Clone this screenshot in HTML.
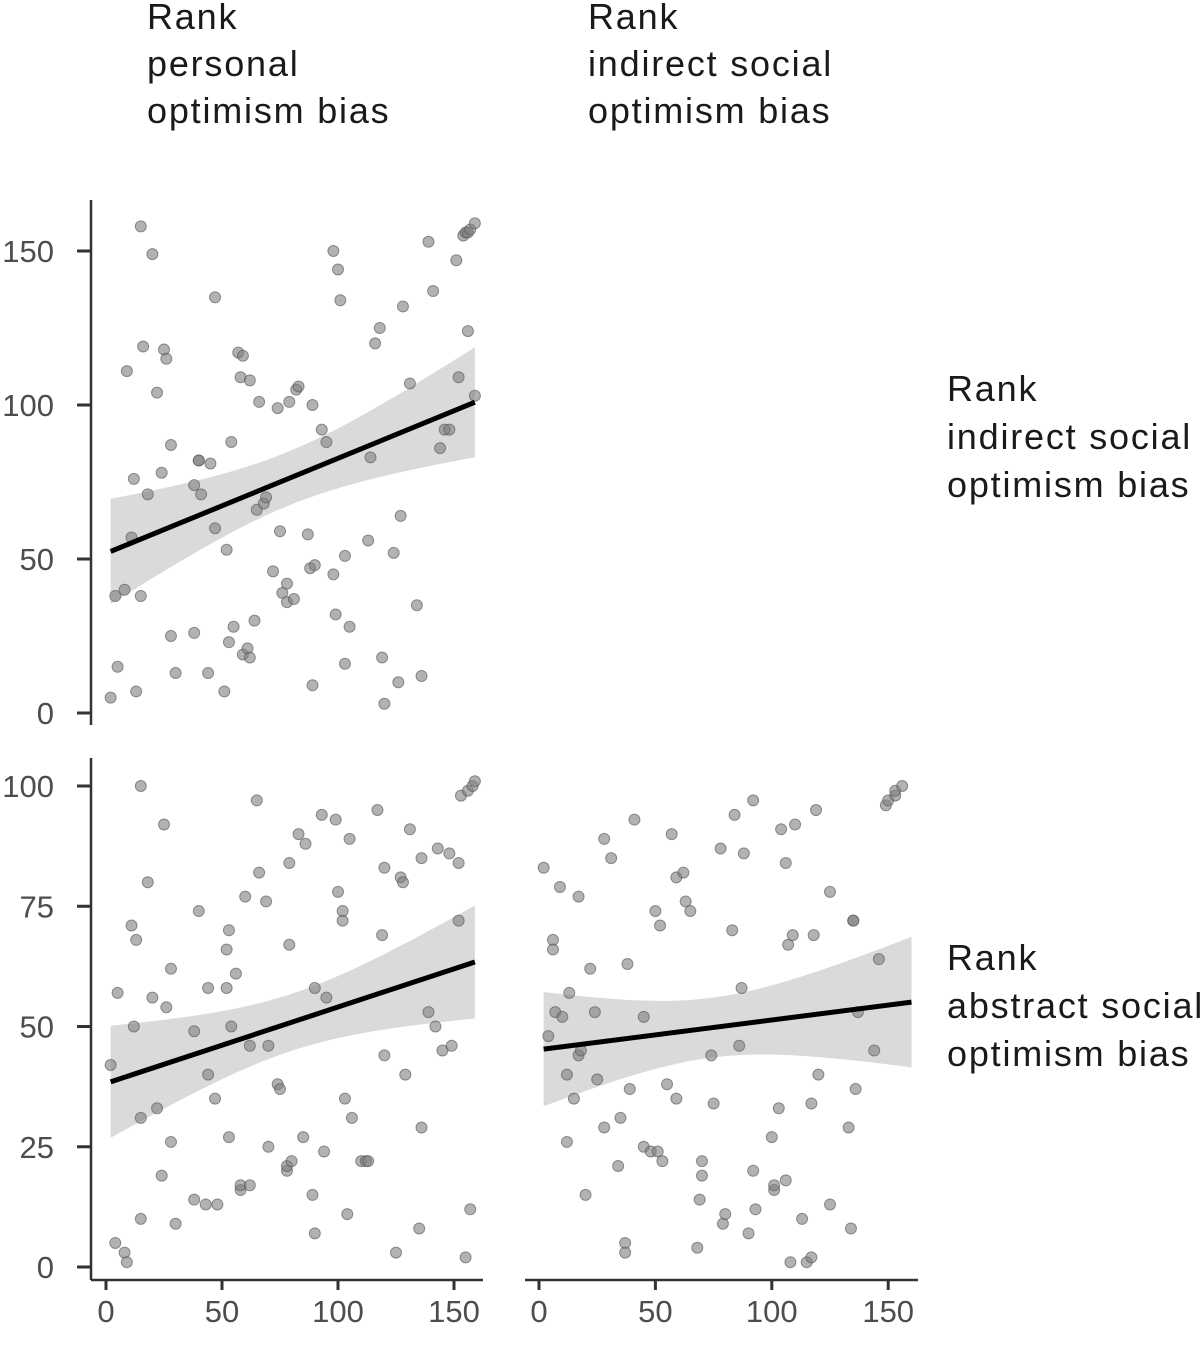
<!DOCTYPE html>
<html><head><meta charset="utf-8"><style>
html,body{margin:0;padding:0;background:#fff;}
svg{display:block;font-family:"Liberation Sans",Arial,sans-serif;}
</style></head><body>
<svg id="chart" width="1200" height="1350" viewBox="0 0 1200 1350">
<g font-size="36" letter-spacing="1.8" fill="#1a1a1a">
<text x="147" y="29"><tspan x="147">Rank</tspan><tspan x="147" dy="47">personal</tspan><tspan x="147" dy="47">optimism bias</tspan></text>
<text x="588" y="29"><tspan x="588">Rank</tspan><tspan x="588" dy="47">indirect social</tspan><tspan x="588" dy="47">optimism bias</tspan></text>
<text x="947" y="401"><tspan x="947">Rank</tspan><tspan x="947" dy="48">indirect social</tspan><tspan x="947" dy="48">optimism bias</tspan></text>
<text x="947" y="970"><tspan x="947">Rank</tspan><tspan x="947" dy="48">abstract social</tspan><tspan x="947" dy="48">optimism bias</tspan></text>
</g>
</svg>
<script>
// Panel A: personal (x) vs indirect social (y)
const panelAX=[2,4,5,8,9,11,12,13,15,15,16,20,18,22,24,25,26,28,28,30,38,38,40,40,41,44,45,47,47,51,52,53,54,55,57,58,59,59,61,62,62,64,65,66,68,69,72,74,75,76,78,78,79,81,82,83,87,88,89,89,90,93,95,98,98,99,100,101,103,103,105,113,114,116,118,119,120,124,126,127,128,131,134,136,139,141,144,146,148,151,152,154,155,156,157,156,159,159];
const panelAY=[5,38,15,40,111,57,76,7,38,158,119,149,71,104,78,118,115,87,25,13,26,74,82,82,71,13,81,60,135,7,53,23,88,28,117,109,19,116,21,108,18,30,66,101,68,70,46,99,59,39,42,36,101,37,105,106,58,47,9,100,48,92,88,45,150,32,144,134,51,16,28,56,83,120,125,18,3,52,10,64,132,107,35,12,153,137,86,92,92,147,109,155,156,156,157,124,159,103];
// Panel B: personal (x) vs abstract social (y)
const panelBX=[2,4,5,8,9,11,12,13,15,15,15,18,20,22,24,25,26,28,28,30,38,38,40,43,44,44,47,48,52,52,53,53,54,56,58,58,60,62,62,65,66,69,70,70,74,75,78,78,79,79,80,83,85,86,89,90,90,93,94,95,99,100,102,102,103,104,105,106,110,112,113,117,119,120,120,125,127,128,129,131,135,136,136,139,142,143,145,148,149,152,152,153,155,156,157,158,159];
const panelBY=[42,5,57,3,1,71,50,68,100,10,31,80,56,33,19,92,54,62,26,9,14,49,74,13,40,58,35,13,66,58,27,70,50,61,16,17,77,46,17,97,82,76,25,46,38,37,20,21,67,84,22,90,27,88,15,7,58,94,24,56,93,78,72,74,35,11,89,31,22,22,22,95,69,44,83,3,81,80,40,91,8,29,85,53,50,87,45,86,46,72,84,98,2,99,12,100,101];
// Panel C: indirect social (x) vs abstract social (y)
const panelCX=[2,4,6,6,7,9,10,12,12,13,15,17,17,18,20,22,24,25,28,28,31,34,35,37,37,38,39,41,45,45,48,50,51,52,53,55,57,59,59,62,63,65,68,69,70,70,74,75,78,79,80,83,84,86,87,88,90,92,92,93,100,101,101,103,104,106,106,107,108,109,110,113,115,117,117,118,119,120,125,125,133,134,135,135,136,137,144,146,149,150,153,153,156,157,158,159,160];
const panelCY=[83,48,68,66,53,79,52,26,40,57,35,44,77,45,15,62,53,39,89,29,85,21,31,5,3,63,37,93,25,52,24,74,24,71,22,38,90,35,81,82,76,74,4,14,19,22,44,34,87,9,11,70,94,46,58,86,7,97,20,12,27,16,17,33,91,84,18,67,1,69,92,10,1,34,2,69,95,40,78,13,29,8,72,72,37,53,45,64,96,97,98,99,100];

const NS="http://www.w3.org/2000/svg";
const svg=document.getElementById('chart');
function mk(tag,attrs,parent){const e=document.createElementNS(NS,tag);for(const k in attrs)e.setAttribute(k,attrs[k]);(parent||svg).appendChild(e);return e;}

const xTicks=[0,50,100,150];
const yTicksTop=[0,50,100,150];
const yTicksBot=[0,25,50,75,100];
const panels=[
 {name:'personal-vs-indirect',xs:panelAX,ys:panelAY,x0:106,xs1:2.32,y0:713,ys1:3.08,left:91,right:483,top:200,bottom:725,yTicks:yTicksTop,yAxis:true,xAxis:false},
 {name:'personal-vs-abstract',xs:panelBX,ys:panelBY,x0:106,xs1:2.32,y0:1267,ys1:4.81,left:91,right:483,top:758,bottom:1280,yTicks:yTicksBot,yAxis:true,xAxis:true},
 {name:'indirect-vs-abstract',xs:panelCX,ys:panelCY,x0:539,xs1:2.328,y0:1267,ys1:4.81,left:525,right:918,top:758,bottom:1280,yTicks:yTicksBot,yAxis:false,xAxis:true}
];

panels.forEach(p=>{
 const X=v=>p.x0+v*p.xs1, Y=v=>p.y0-v*p.ys1;
 const g=mk('g',{});
 
 
 const n=Math.min(p.xs.length,p.ys.length);
 let mx=0,my=0;for(let i=0;i<n;i++){mx+=p.xs[i];my+=p.ys[i];}mx/=n;my/=n;
 let sxx=0,sxy=0;for(let i=0;i<n;i++){sxx+=(p.xs[i]-mx)**2;sxy+=(p.xs[i]-mx)*(p.ys[i]-my);}
 const b=sxy/sxx,a=my-b*mx;
 let sse=0;for(let i=0;i<n;i++){sse+=(p.ys[i]-a-b*p.xs[i])**2;}
 const s=Math.sqrt(sse/(n-2));
 let xmin=Math.min(...p.xs),xmax=Math.max(...p.xs);
 const up=[],lo=[];
 for(let k=0;k<=60;k++){const xv=xmin+(xmax-xmin)*k/60;const yh=a+b*xv;const se=1.985*s*Math.sqrt(1/n+(xv-mx)**2/sxx);up.push([X(xv),Y(yh+se)]);lo.push([X(xv),Y(yh-se)]);}
 const band=mk('path',{d:'M'+up.map(q=>q.join(',')).join('L')+'L'+lo.reverse().map(q=>q.join(',')).join('L')+'Z',fill:'#d3d3d3',opacity:'0.85'},g);
 
 
 for(let i=0;i<n;i++){
  const c=mk('circle',{cx:X(p.xs[i]),cy:Y(p.ys[i]),r:5.5,fill:'#7f7f7f','fill-opacity':'0.6',stroke:'#555','stroke-opacity':'0.6','stroke-width':1},g);
  
  
 }
 const ln=mk('line',{x1:X(xmin),y1:Y(a+b*xmin),x2:X(xmax),y2:Y(a+b*xmax),stroke:'#000','stroke-width':5},g);
 
 
 if(p.yAxis){
  const ax=mk('line',{x1:p.left,y1:p.top,x2:p.left,y2:p.bottom,stroke:'#333','stroke-width':2.5},g);
  
  
  p.yTicks.forEach(t=>{
   mk('line',{x1:p.left-14,y1:Y(t),x2:p.left,y2:Y(t),stroke:'#333','stroke-width':3},g);
   const tx=mk('text',{x:54,y:Y(t)+11,'text-anchor':'end','font-size':31,fill:'#4d4d4d'},g);
   tx.textContent=t;
   
   
  });
 }
 if(p.xAxis){
  const ax=mk('line',{x1:p.left,y1:p.bottom,x2:p.right,y2:p.bottom,stroke:'#333','stroke-width':2.5},g);
  
  
  xTicks.forEach(t=>{
   mk('line',{x1:X(t),y1:p.bottom,x2:X(t),y2:p.bottom+10,stroke:'#333','stroke-width':3},g);
   const tx=mk('text',{x:X(t),y:1322,'text-anchor':'middle','font-size':31,fill:'#4d4d4d'},g);
   tx.textContent=t;
   
   
  });
 }
});
</script>
</body></html>
